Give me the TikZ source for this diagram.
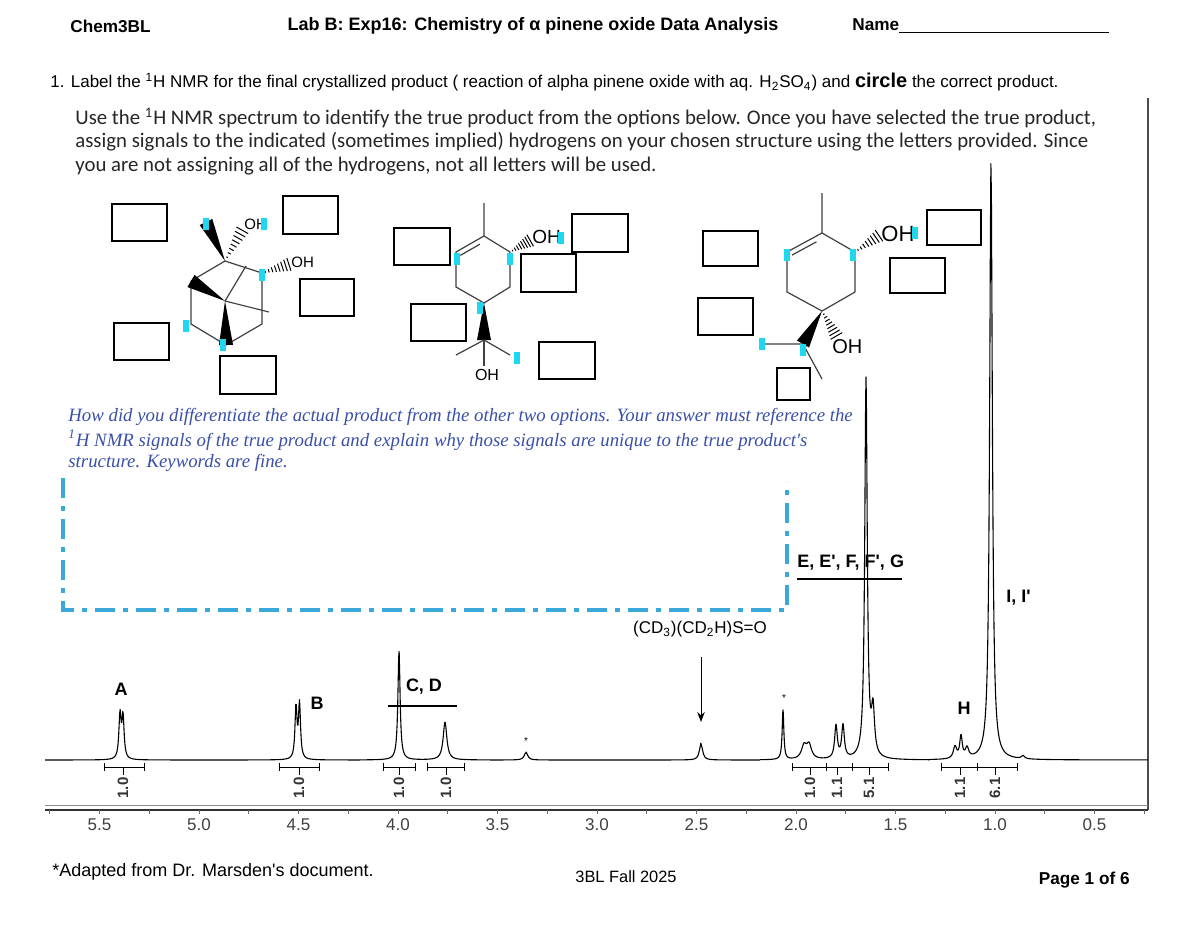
\documentclass[tikz,border=0pt]{standalone}
\usepackage{fontspec}
\setmainfont{Liberation Sans}
\newfontfamily\calfam{Carlito}
\newfontfamily\tmsfam{Liberation Serif}
\usetikzlibrary{calc,arrows.meta}
\definecolor{hmark}{HTML}{1FD8F0}
\definecolor{qblue}{HTML}{3A50A8}
\definecolor{dbox}{HTML}{3AA8D8}
\newcommand{\q}{\textquotesingle}
\tikzset{
 bx/.style={draw=black,line width=0.8pt},
 bond/.style={line width=0.6pt,draw=black!75},
 spec/.style={line width=0.55pt,line join=round},
 lbl/.style={inner sep=0pt,font=\fontsize{7.5}{8}\selectfont},
 intg/.style={font=\bfseries\fontsize{7.5}{8}\selectfont,rotate=90,inner sep=0pt,text=black!80},
 pk/.style={font=\bfseries\fontsize{9}{10}\selectfont,inner sep=0pt},
 declare function={lor(\x,\p,\w,\h)=\h/(1+min(abs(\x-\p)/\w,120)^2);}
}
\newcommand{\hb}[2]{\foreach \t in {0.12,0.24,...,1.0}{\draw[line width=0.5pt] ($(#1)!\t!(#2)!{\t*3.5pt}!90:(#2)$) -- ($(#1)!\t!(#2)!{\t*3.5pt}!-90:(#2)$);}}
\newcommand{\wdg}[2]{\fill ($(#2)!3.5pt!90:(#1)$) -- (#1) -- ($(#2)!3.5pt!-90:(#1)$) -- cycle;}
\newcommand{\mk}[1]{\fill[fill=hmark] ($(#1)+(-3,-6)$) rectangle ($(#1)+(3,6)$);}
\begin{document}
\begin{tikzpicture}[x=0.5pt,y=-0.5pt]
\useasboundingbox[fill=white] (0,0) rectangle (1200,927);
% header
\node[anchor=west,inner sep=0pt,font=\bfseries\fontsize{8.6}{9}\selectfont] (h1) at (70,26) {Chem3BL};
\node[inner sep=0pt,font=\bfseries\fontsize{9}{10}\selectfont] (h2) at (533,26) {Lab B: Exp16: Chemistry of α pinene oxide Data Analysis};
\node[anchor=west,inner sep=0pt,font=\bfseries\fontsize{8.6}{9}\selectfont] (h3) at (852,26) {Name\rule[-1pt]{105pt}{0.6pt}};
\node[anchor=west,inner sep=0pt,font=\fontsize{8.5}{9}\selectfont] (q1) at (50,82) {1. Label the \textsuperscript{1}H NMR for the final crystallized product ( reaction of alpha pinene oxide with aq. H\textsubscript{2}SO\textsubscript{4}) and {\bfseries\fontsize{10}{11}\selectfont circle} the correct product.};
% instructions
\begin{scope}[every node/.style={anchor=west,inner sep=0pt,font=\calfam\fontsize{10.4}{11}\selectfont,text=black!85}]
\node (i1) at (75,118) {Use the \textsuperscript{1}H NMR spectrum to identify the true product from the options below. Once you have selected the true product,};
\node (i2) at (75,142) {assign signals to the indicated (sometimes implied) hydrogens on your chosen structure using the letters provided. Since};
\node (i3) at (75,166) {you are not assigning all of the hydrogens, not all letters will be used.};
\end{scope}
\begin{scope}[every node/.style={anchor=west,inner sep=0pt,font=\tmsfam\itshape\fontsize{9.4}{10}\selectfont,text=qblue}]
\node (b1) at (68,417) {How did you differentiate the actual product from the other two options. Your answer must reference the};
\node (b2) at (68,440) {\textsuperscript{1}H NMR signals of the true product and explain why those signals are unique to the true product\q s};
\node (b3) at (68,463) {structure. Keywords are fine.};
\end{scope}
\draw[dbox,line width=2pt,dash pattern=on 10pt off 4pt on 2.5pt off 4pt] (63,478) -- (63,610) -- (787,610) -- (787,482);
% frame line right
\draw[line width=0.6pt,black!70] (1148,98) -- (1148,810);
% ---------- structure 1
\coordinate (a1) at (191,281); \coordinate (a2) at (225,261); \coordinate (a3) at (262,273);
\coordinate (a4) at (262,324); \coordinate (a5) at (226,345); \coordinate (a6) at (191,324);
\coordinate (a7) at (225,301); \coordinate (am) at (206,222); \coordinate (ao) at (243,229);
\coordinate (ao3) at (290,264); \coordinate (m1) at (246,266); \coordinate (m2) at (269,312);
\draw[bond] (a1)--(a2)--(a3)--(a4)--(a5)--(a6)--(a1);
\draw[bond] (a7)--(m1); \draw[bond] (a7)--(m2);
\wdg{a2}{am}
\wdg{a7}{a1}
\wdg{a7}{a5}
\hb{a2}{ao}
\hb{a3}{ao3}
\node[lbl,anchor=west] (oh1) at (244,224) {OH};
\node[lbl,anchor=west] (oh2) at (291,262) {OH};
\mk{206,224}\mk{264,224}\mk{262,275}\mk{186,326}\mk{223,345}
\draw[bx] (112,204) rectangle (167,241); \draw[bx] (283,196) rectangle (338,234);
\draw[bx] (300,279) rectangle (354,316); \draw[bx] (114,323) rectangle (169,360);
\draw[bx] (220,356) rectangle (276,394);
% ---------- structure 2
\coordinate (c1) at (484,236); \coordinate (c2) at (456,252); \coordinate (c6) at (510,252);
\coordinate (c3) at (456,287); \coordinate (c5) at (510,287); \coordinate (c4) at (484,303);
\coordinate (cm) at (484,203); \coordinate (cq) at (484,340); \coordinate (cx1) at (456,355);
\coordinate (cx2) at (510,355); \coordinate (co) at (484,366); \coordinate (ch) at (531,240);
\draw[bond] (cm)--(c1)--(c2)--(c3)--(c4)--(c5)--(c6)--(c1);
\draw[bond] ($(c1)!0.2!(c2)+(1.5,5)$) -- ($(c1)!0.9!(c2)+(1.5,5)$);
\wdg{c4}{cq}
\draw[bond] (cx1)--(cq)--(cx2); \draw[bond] (cq)--(co);
\hb{c6}{ch}
\node[font=\fontsize{9.5}{10}\selectfont,inner sep=0pt,anchor=west] (oh3) at (532,237) {OH};
\node[font=\fontsize{8}{9}\selectfont,inner sep=0pt] (oh4) at (487,375) {OH};
\mk{561,238}\mk{457,259}\mk{510,259}\mk{480,308}\mk{517,358}
\draw[bx] (394,228) rectangle (450,265); \draw[bx] (572,214) rectangle (628,252);
\draw[bx] (521,254) rectangle (576,292); \draw[bx] (411,304) rectangle (466,341);
\draw[bx] (539,342) rectangle (595,379);
% ---------- structure 3
\coordinate (d1) at (822,233); \coordinate (d2) at (787,252); \coordinate (d6) at (855,252);
\coordinate (d3) at (787,292); \coordinate (d5) at (855,292); \coordinate (d4) at (822,311);
\coordinate (dm) at (822,193); \coordinate (dq) at (803,344); \coordinate (dx1) at (762,344);
\coordinate (dx2) at (822,379); \coordinate (do) at (837,337); \coordinate (dh) at (880,235);
\draw[bond] (dm)--(d1)--(d2)--(d3)--(d4)--(d5)--(d6)--(d1);
\draw[bond] ($(d1)!0.2!(d2)+(1.5,5)$) -- ($(d1)!0.9!(d2)+(1.5,5)$);
\wdg{d4}{dq}
\draw[bond] (dx1)--(dq)--(dx2);
\hb{d4}{do}
\hb{d6}{dh}
\node[font=\fontsize{11}{12}\selectfont,inner sep=0pt,anchor=west] (oh5) at (881,234) {OH};
\node[font=\fontsize{10}{11}\selectfont,inner sep=0pt,anchor=west] (oh6) at (832,347) {OH};
\mk{915,233}\mk{787,255}\mk{853,255}\mk{762,344}\mk{803,350}
\draw[bx] (703,231) rectangle (758,266); \draw[bx] (927,210) rectangle (981,245);
\draw[bx] (890,258) rectangle (945,293); \draw[bx] (698,298) rectangle (753,335);
\draw[bx] (777,368) rectangle (810,400);
% ---------- spectrum (piecewise)
\draw[spec,samples=300,domain=45:200] plot (\x,{760-lor(\x,120,1.3,44)-lor(\x,123,1.3,42)});
\draw[spec,samples=300,domain=200:360] plot (\x,{760-lor(\x,296,1.2,52)-lor(\x,299.5,1.2,55)});
\draw[spec,samples=260,domain=360:490] plot (\x,{760-lor(\x,399,1.3,110)-lor(\x,445,2.2,38)});
\draw[spec,samples=80,domain=490:600] plot (\x,{760-lor(\x,526,2,8)});
\draw[spec,samples=120,domain=600:760] plot (\x,{760-lor(\x,701,1.8,17)});
\draw[spec,samples=450,domain=760:930] plot (\x,{760-lor(\x,783,1,50)-lor(\x,804,3,13)-lor(\x,809,3,14)-lor(\x,836,1.6,33)-lor(\x,843,1.6,33)-lor(\x,866,1.5,380)-lor(\x,873,1.8,45)});
\draw[spec,samples=420,domain=930:1148] plot (\x,{760-lor(\x,955,2,12)-lor(\x,961,1.5,22)-lor(\x,967,2,10)-lor(\x,991,1.6,600)-lor(\x,1023,2,3)});
\draw[black!45,line width=0.4pt] (45,805) -- (1148,805);
\draw[black!80,line width=0.8pt] (45,810) -- (1148,810);
\foreach \p in {5.75,5.5,...,0.25}{\draw[black!60] ({995+(1-\p)*199},810) -- ({995+(1-\p)*199},814);}
\foreach \p/\s in {5.5/5.5,5.0/5.0,4.5/4.5,4.0/4.0,3.5/3.5,3.0/3.0,2.5/2.5,2.0/2.0,1.5/1.5,1.0/1.0,0.5/0.5}{\node[font=\fontsize{8.5}{9}\selectfont,text=black!75,inner sep=0pt] at ({995+(1-\p)*199},825) {\s};}
% integrals
\foreach \a/\b/\c/\v in {104/144/123/1.0,279/319/299/1.0,383/415/399/1.0,427/464/446/1.0,792/826/810/1.0,826/852/837/1.1,852/888/869/5.1,941/977/960/1.1,977/1017/995/6.1}{
 \draw[line width=0.5pt] (\a,767)--(\b,767); \draw (\a,763)--(\a,771); \draw (\b,763)--(\b,771); \draw (\c,767)--(\c,775);
 \node[intg] at (\c,788) {\v};}
% labels
\node[pk] (pA) at (121,689) {A};
\node[pk] (pB) at (317,703) {B};
\node[pk] (pC) at (424,687) {C, D};
\draw[line width=0.6pt] (388,706) -- (457,706);
\node[pk,anchor=west] (pE) at (797,563) {E, E\q, F, F\q, G};
\draw[line width=0.6pt] (797,579) -- (902,579);
\node[pk,anchor=west] (pI) at (1006,598) {I, I\q};
\node[pk] (pH) at (964,708) {H};
\node[font=\fontsize{8.5}{9}\selectfont,inner sep=0pt] (dmso) at (700,629) {(CD\textsubscript{3})(CD\textsubscript{2}H)S=O};
\coordinate (ar) at (701,722);
\draw[-{Stealth[length=5pt]},line width=0.5pt] (701,657) -- (ar);
\node[font=\tiny,inner sep=0pt] (s1) at (526,741) {*};
\node[font=\tiny,inner sep=0pt] (s2) at (784,698) {*};
% footer
\node[anchor=west,inner sep=0pt,font=\fontsize{9}{10}\selectfont] (f1) at (52,872) {*Adapted from Dr. Marsden\q s document.};
\node[inner sep=0pt,font=\fontsize{8.2}{9}\selectfont] (f2) at (626,877) {3BL Fall 2025};
\node[anchor=east,inner sep=0pt,font=\bfseries\fontsize{8.6}{9}\selectfont] (f3) at (1130,880) {Page 1 of 6};
\end{tikzpicture}
\end{document}
